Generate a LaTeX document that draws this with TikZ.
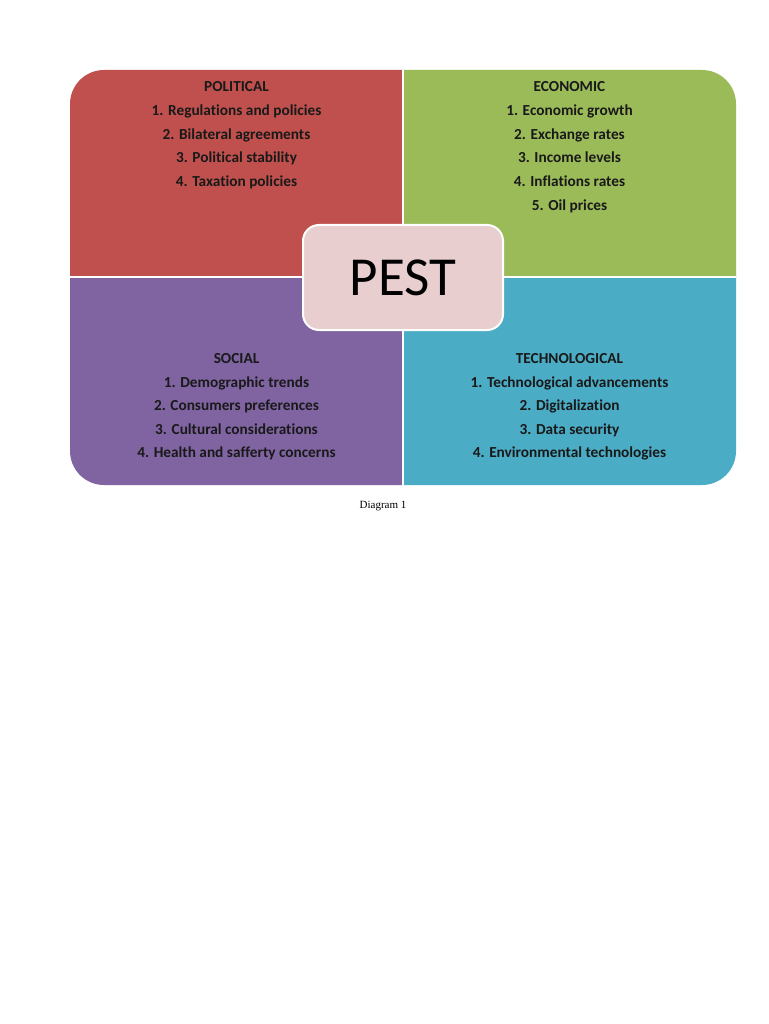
\documentclass[tikz,border=0pt]{standalone}
\usepackage{fontspec}
\setmainfont[Ligatures={NoCommon}]{Carlito}
\newfontfamily\capfont{Liberation Serif}
\definecolor{polred}{RGB}{192,80,77}
\definecolor{ecogreen}{RGB}{155,187,89}
\definecolor{socpurple}{RGB}{128,100,162}
\definecolor{techblue}{RGB}{75,172,198}
\definecolor{pestpink}{RGB}{232,206,206}
\tikzset{
	item/.style={anchor=base, font=\bfseries\fontsize{15.3}{17}\selectfont, text=black!90, inner sep=0pt},
	quad/.style={rounded corners=34pt}
}
\begin{document}
\begin{tikzpicture}[x=1pt,y=-1pt]
			\useasboundingbox (0,0) rectangle (768,1024);
			% four quarters of one rounded frame
			\begin{scope} \clip (70,70) rectangle (403,277); \fill [polred, quad] (70,70) rectangle (736,485); \end{scope}
			\begin{scope} \clip (403,70) rectangle (736,277); \fill [ecogreen, quad] (70,70) rectangle (736,485); \end{scope}
			\begin{scope} \clip (70,277) rectangle (403,485); \fill [socpurple, quad] (70,70) rectangle (736,485); \end{scope}
			\begin{scope} \clip (403,277) rectangle (736,485); \fill [techblue, quad] (70,70) rectangle (736,485); \end{scope}
			\draw [white, line width=2pt] (403,70) -- (403,485);
			\draw [white, line width=2pt] (70,277) -- (736,277);
			% texts
			\foreach \txt [count=\i from 0] in {POLITICAL, 1. Regulations and policies, 2. Bilateral agreements, 3. Political stability, 4. Taxation policies}
				\node [item] (pol-\i) at (236.5,91.5+23.8*\i) {\txt};
			\foreach \txt [count=\i from 0] in {ECONOMIC, 1. Economic growth, 2. Exchange rates, 3. Income levels, 4. Inflations rates, 5. Oil prices}
				\node [item] (eco-\i) at (569.5,91.5+23.8*\i) {\txt};
			\foreach \txt [count=\i from 0] in {SOCIAL, 1. Demographic trends, 2. Consumers preferences, 3. Cultural considerations, 4. Health and safferty concerns}
				\node [item] (soc-\i) at (236.5,363.5+23.6*\i) {\txt};
			\foreach \txt [count=\i from 0] in {TECHNOLOGICAL, 1. Technological advancements, 2. Digitalization, 3. Data security, 4. Environmental technologies}
				\node [item] (tech-\i) at (569.5,363.5+23.6*\i) {\txt};
			% centre box
			\node [fill=pestpink, draw=white, line width=2pt, rounded corners=16pt, minimum width=200pt, minimum height=105pt,
				font=\fontsize{55}{60}\selectfont] (pest) at (403,277.5) {PEST};
			\node [anchor=base, font=\capfont\fontsize{11}{13}\selectfont, inner sep=0pt] (caption) at (383,508) {Diagram 1};
		\end{tikzpicture}
\end{document}
